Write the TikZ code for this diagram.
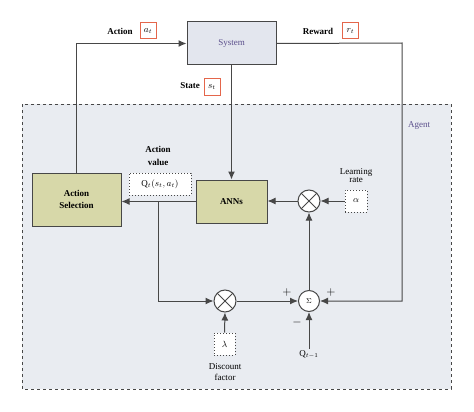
\documentclass[tikz,border=0pt]{standalone}
\usepackage{fontspec}
\setmainfont{Liberation Serif}
\usetikzlibrary{arrows.meta,positioning}
\definecolor{agentbg}{HTML}{E9ECF1}
\definecolor{sysbg}{HTML}{E3E6EE}
\definecolor{olivebg}{HTML}{D7D8A9}
\definecolor{linegray}{HTML}{474747}
\definecolor{tagred}{HTML}{E4664B}
\definecolor{sysfont}{HTML}{5B4F8C}
\newcommand{\lblfont}{\fontsize{9}{10}\selectfont}

\begin{document}
\begin{tikzpicture}[x=1pt,y=-1pt,>={Latex[length=8pt,width=7pt]},line width=1pt,
    font=\lblfont,
    block/.style={draw=linegray,fill=olivebg,font=\lblfont\bfseries,align=center,inner sep=0pt},
    tagbox/.style={draw=tagred,fill=white,inner sep=0pt,minimum width=16pt,minimum height=16pt},
    dotbox/.style={draw=linegray,dotted,line width=1pt,fill=white,inner sep=0pt},
    mult/.style={circle,draw=linegray,fill=white,minimum size=22pt,inner sep=0pt,
        path picture={\draw[linegray,line width=0.9pt]
            (path picture bounding box.north west) -- (path picture bounding box.south east)
            (path picture bounding box.north east) -- (path picture bounding box.south west);}},
    wire/.style={draw=linegray}]
    \useasboundingbox (0,0) rectangle (474,412);

    % the agent area
    \draw[linegray,dashed,line width=0.8pt,fill=agentbg] (22,104) rectangle (451,389);
    \node[text=sysfont] (agent) at (419,125) {Agent};

    % the system
    \node[draw=linegray,fill=sysbg,minimum width=89pt,minimum height=43pt,text=sysfont] (system) at (231.5,43.5) {System};

    % blocks inside the agent
    \node[block,minimum width=89pt,minimum height=53pt] (actsel) at (76.5,199.5) {Action\\[2pt]Selection};
    \node[block,minimum width=71pt,minimum height=43pt] (anns) at (231.5,201.5) {ANNs};
    \node[mult] (multup) at (309,201) {};
    \node[mult] (multlow) at (225,301) {};
    \node[circle,draw=linegray,fill=white,minimum size=21pt,inner sep=0pt,font=\scriptsize] (sum) at (309,301) {$\Sigma$};

    % small boxes and labels
    \node[tagbox] (at) at (148,31) {$a_t$};
    \node[font=\lblfont\bfseries] (actlbl) at (120,31) {Action};
    \node[tagbox] (rt) at (350.5,31) {$r_t$};
    \node[font=\lblfont\bfseries] (rwlbl) at (318,31) {Reward};
    \node[tagbox] (st) at (212,87) {$s_t$};
    \node[font=\lblfont\bfseries] (stlbl) at (190,86) {State};
    \node[dotbox,minimum width=62pt,minimum height=22pt] (qbox) at (160,184) {$\mathrm{Q}_t(s_t,a_t)$};
    \node[font=\lblfont\bfseries,align=center] (qlbl) at (158,156) {Action\\[3pt]value};
    \node[dotbox,minimum width=22pt,minimum height=22pt] (alpha) at (356,201) {$\alpha$};
    \node[align=center,inner sep=0pt] (alphalbl) at (356,176) {Learning\\[-2pt]rate};
    \node[dotbox,minimum width=21pt,minimum height=22pt] (lambda) at (224.5,344) {$\lambda$};
    \node[align=center,inner sep=0pt] (lambdalbl) at (225,372) {Discount\\[1pt]factor};
    \node[inner sep=1pt] (qprev) at (309,354) {$\mathrm{Q}_{t-1}$};
    \node[font=\large] (plusl) at (287,292) {$+$};
    \node[font=\large] (plusr) at (331,292) {$+$};
    \node[font=\large] (minus) at (297,322) {$-$};

    % connectors
    \coordinate (rwcorner) at (402,43);
    \coordinate (qsplit) at (158,201);
    \draw[wire,->] (actsel.north) |- (system.west);
    \draw[wire,->] (system.east) -- (rwcorner) |- (sum.east);
    \draw[wire,->] (system.south) -- (anns.north);
    \draw[wire,->] (anns.west) -- (anns.west -| actsel.east);
    \draw[wire,->] (qsplit) |- (multlow.west);
    \draw[wire,->] (multlow.east) -- (sum.west);
    \draw[wire,->] (lambda.north) -- (multlow.south);
    \draw[wire,->] (qprev.north) -- (sum.south);
    \draw[wire,->] (sum.north) -- (multup.south);
    \draw[wire,->] (alpha.west) -- (multup.east);
    \draw[wire,->] (multup.west) -- (multup.west -| anns.east);
\end{tikzpicture}
\end{document}
